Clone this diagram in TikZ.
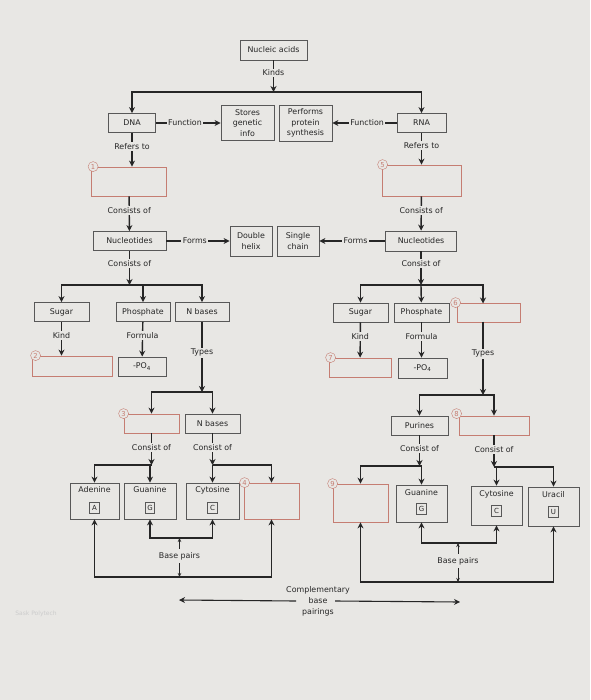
\documentclass[tikz,border=0pt]{standalone}
\usepackage{fontspec}
\setmainfont{DejaVu Sans}
\usetikzlibrary{positioning,arrows.meta}

\definecolor{paper}{HTML}{E8E7E4}
\definecolor{boxgray}{HTML}{585858}
\definecolor{blankred}{HTML}{C57D72}
\definecolor{ink}{HTML}{262626}

\begin{document}
\begin{tikzpicture}[x=1pt, y=-1pt, text=ink,
    font=\fontsize{7.9}{10.4}\selectfont,
    concept box/.style={draw=boxgray, line width=0.8pt, inner sep=0pt, align=center, minimum height=19pt},
    blank box/.style={concept box, draw=blankred},
    number tag/.style={circle, draw=blankred, fill=paper, text=blankred, inner sep=0pt, minimum size=10pt, font=\fontsize{6.8}{7}\selectfont},
    letter box/.style={draw=boxgray, line width=0.7pt, inner sep=0pt, minimum width=9.5pt, minimum height=10.5pt, font=\fontsize{7}{7}\selectfont},
    base name/.style={inner sep=0pt},
    edge label/.style={fill=paper, inner sep=1.4pt},
    main arrow/.style={-{Stealth[length=6pt,width=6pt]}, draw=ink, line width=1.4pt},
    small arrow/.style={-{Stealth[length=4pt,width=3.5pt]}, draw=ink, line width=0.7pt}]

  % Paper
  \fill[paper] (0,0) rectangle (590,700);
  \useasboundingbox (0,0) rectangle (590,700);
  \node[text=black!20, font=\fontsize{6}{6}\selectfont] (mark) at (36,614) {Sask Polytech};

  % Nodes (arranged top-to-bottom)
  \node[concept box, minimum width=67pt, minimum height=20pt] (nuc) at (273.5,50) {Nucleic acids};

  % Level 1
  \node[concept box, minimum width=47pt] (dna) at (132,123) {DNA};
  \node[concept box, minimum width=53pt, minimum height=35pt] (store) at (247.5,123) {Stores\\genetic\\info};
  \node[concept box, minimum width=53pt, minimum height=36pt] (perf) at (305.5,123) {Performs\\protein\\synthesis};
  \node[concept box, minimum width=49pt] (rna) at (421.5,123) {RNA};

  % Level 2
  \node[blank box, minimum width=75pt, minimum height=29pt] (b1) at (129,181.5) {};
  \node[blank box, minimum width=79pt, minimum height=31pt] (b5) at (421.5,180.5) {};
  \node[concept box, minimum width=73pt] (nt1) at (129.5,241) {Nucleotides};
  \node[concept box, minimum width=42pt, minimum height=30pt] (helix) at (251,241) {Double\\helix};
  \node[concept box, minimum width=42pt, minimum height=30pt] (chain) at (298,241) {Single\\chain};
  \node[concept box, minimum width=71pt, minimum height=20pt] (nt2) at (421,241) {Nucleotides};

  % Level 3 (DNA side)
  \node[concept box, minimum width=55pt] (sug1) at (61.5,312) {Sugar};
  \node[concept box, minimum width=54pt] (pho1) at (143,312) {Phosphate};
  \node[concept box, minimum width=54pt] (nb1) at (202,312) {N bases};
  \node[blank box, minimum width=80pt, minimum height=20pt] (b2) at (72,366) {};
  \node[concept box, minimum width=48pt] (po1) at (142,366.5) {-PO\textsubscript{4}};

  % Level 3 (RNA side)
  \node[concept box, minimum width=55pt] (sug2) at (360.5,312.5) {Sugar};
  \node[concept box, minimum width=55pt] (pho2) at (421.5,312.5) {Phosphate};
  \node[blank box, minimum width=63pt] (b6) at (488.5,312.5) {};
  \node[blank box, minimum width=62pt] (b7) at (360,367.5) {};
  \node[concept box, minimum width=49pt, minimum height=20pt] (po2) at (422.5,368) {-PO\textsubscript{4}};

  % Level 4
  \node[blank box, minimum width=55pt] (b3) at (151.5,423.5) {};
  \node[concept box, minimum width=55pt] (nb2) at (212.5,423.5) {N bases};
  \node[concept box, minimum width=57pt] (pur) at (419.5,425.5) {Purines};
  \node[blank box, minimum width=70pt] (b8) at (494,425.5) {};

  % Level 5 (bases)
  \node[concept box, minimum width=49pt, minimum height=36pt] (ade1) at (94.5,501) {};
  \node[concept box, minimum width=52pt, minimum height=36pt] (gua1) at (150,501) {};
  \node[concept box, minimum width=53pt, minimum height=36pt] (cyt1) at (212.5,501) {};
  \node[blank box, minimum width=55pt, minimum height=36pt] (b4) at (271.5,501) {};
  \node[blank box, minimum width=55pt, minimum height=38pt] (b9) at (360.5,503) {};
  \node[concept box, minimum width=51pt, minimum height=37pt] (gua2) at (421.5,503.5) {};
  \node[concept box, minimum width=51pt, minimum height=39pt] (cyt2) at (496.5,505.5) {};
  \node[concept box, minimum width=51pt, minimum height=39pt] (ura) at (553.5,506.5) {};

  \node[base name, below=4pt of ade1.north] (adeT) {Adenine};
  \node[base name, below=4pt of gua1.north] (gua1T) {Guanine};
  \node[base name, below=4pt of cyt1.north] (cyt1T) {Cytosine};
  \node[base name, below=5pt of gua2.north] (gua2T) {Guanine};
  \node[base name, below=5pt of cyt2.north] (cyt2T) {Cytosine};
  \node[base name, below=5pt of ura.north] (uraT) {Uracil};
  \node[letter box, above=6pt of ade1.south] (adeL) {A};
  \node[letter box, above=6pt of gua1.south] (gua1L) {G};
  \node[letter box, above=6pt of cyt1.south] (cyt1L) {C};
  \node[letter box, above=8pt of gua2.south] (gua2L) {G};
  \node[letter box, above=9pt of cyt2.south] (cyt2L) {C};
  \node[letter box, above=9pt of ura.south] (uraL) {U};

  % Numbers on the blanks
  \node[number tag] (n1) at ([xshift=2pt]b1.north west) {1};
  \node[number tag] (n2) at ([xshift=4pt]b2.north west) {2};
  \node[number tag] (n3) at (b3.north west) {3};
  \node[number tag] (n4) at ([xshift=1pt]b4.north west) {4};
  \node[number tag] (n5) at ([xshift=1pt]b5.north west) {5};
  \node[number tag] (n6) at ([xshift=-1pt]b6.north west) {6};
  \node[number tag] (n7) at ([xshift=2pt]b7.north west) {7};
  \node[number tag] (n8) at ([xshift=-2pt, yshift=2pt]b8.north west) {8};
  \node[number tag] (n9) at (b9.north west) {9};

  % Junctions
  \coordinate (kj) at (273.5,92);
  \coordinate (j1) at (129.5,285);
  \coordinate (j2) at (421,285);
  \coordinate (b6in) at (483,303.5);
  \coordinate (b6out) at (483,321.5);
  \coordinate (t1) at (202,392);
  \coordinate (t2) at (483,395);
  \coordinate (c1) at (151.5,465);
  \coordinate (c2) at (212.5,465);
  \coordinate (c3) at (419.5,466);
  \coordinate (c4) at (494,467);
  \coordinate (p1) at (179.5,538);
  \coordinate (q1) at (179.5,577);
  \coordinate (p2) at (458,543);
  \coordinate (q2) at (458,582);
  \coordinate (cl) at (179,600);
  \coordinate (cr) at (460,602);

  % Edges with labels
  \path[main arrow]
    (nuc) edge node[edge label, pos=.4] {Kinds} (kj)
    (dna) edge node[edge label, pos=.45] {Function} (store)
    (rna) edge node[edge label, pos=.46] {Function} (perf)
    (dna) edge node[edge label, pos=.4] {Refers to} (dna |- b1.north)
    (rna) edge node[edge label, pos=.4] {Refers to} (b5)
    (b1) edge node[edge label, pos=.4] {Consists of} (nt1)
    (b5) edge node[edge label, pos=.4] {Consists of} (nt2)
    (nt1) edge node[edge label, pos=.45] {Forms} (helix)
    (nt2) edge node[edge label, pos=.45] {Forms} (chain)
    (nt1) edge node[edge label, pos=.37] {Consists of} (j1)
    (nt2) edge node[edge label, pos=.37] {Consist of} (j2)
    (sug1) edge node[edge label, pos=.4] {Kind} (sug1 |- b2.north)
    (pho1) edge node[edge label, pos=.4] {Formula} (po1)
    (sug2) edge node[edge label, pos=.4] {Kind} (b7)
    (pho2) edge node[edge label, pos=.4] {Formula} (pho2 |- po2.north)
    (nb1) edge node[edge label, pos=.44] {Types} (t1)
    (b3) edge node[edge label, pos=.44] {Consist of} (c1)
    (nb2) edge node[edge label, pos=.44] {Consist of} (c2)
    (pur) edge node[edge label, pos=.44] {Consist of} (c3)
    (b8) edge node[edge label, pos=.44] {Consist of} (c4);
  \draw[main arrow] (b6out) -- node[edge label, pos=.44] {Types} (t2);

  % Branches
  \draw[main arrow] (kj) -| (dna);
  \draw[main arrow] (kj) -| (rna);
  \draw[main arrow] (j1) -| (sug1);
  \draw[main arrow] (j1) -| (pho1);
  \draw[main arrow] (j1) -| (nb1);
  \draw[main arrow] (j2) -| (sug2);
  \draw[main arrow] (j2) -- (pho2);
  \draw[main arrow] (j2) -| (b6in);
  \draw[main arrow] (t1) -| (b3);
  \draw[main arrow] (t1) -| (nb2);
  \draw[main arrow] (t2) -| (pur);
  \draw[main arrow] (t2) -| (b8);
  \draw[main arrow] (c1) -| (ade1);
  \draw[main arrow] (c1) -| (gua1);
  \draw[main arrow] (c2) -| (cyt1);
  \draw[main arrow] (c2) -| (b4);
  \draw[main arrow] (c3) -| (b9);
  \draw[main arrow] (c3) -| (gua2);
  \draw[main arrow] (c4) -| (cyt2);
  \draw[main arrow] (c4) -| (ura);

  % Base pairs
  \node (bp1) at (179.5,556) {Base pairs};
  \node (bp2) at (458,561) {Base pairs};
  \draw[small arrow] (bp1) -- (p1);
  \draw[small arrow] (bp1) -- (q1);
  \draw[small arrow] (bp2) -- (p2);
  \draw[small arrow] (bp2) -- (q2);
  \draw[main arrow] (p1) -| (gua1);
  \draw[main arrow] (p1) -| (cyt1);
  \draw[main arrow] (q1) -| (ade1);
  \draw[main arrow] (q1) -| (b4);
  \draw[main arrow] (p2) -| (gua2);
  \draw[main arrow] (p2) -| (cyt2);
  \draw[main arrow] (q2) -| (b9);
  \draw[main arrow] (q2) -| (ura);

  % Complementary base pairings
  \node[align=center, font=\fontsize{7.9}{11}\selectfont] (comp) at (318,601) {Complementary\\base\\pairings};
  \draw[main arrow, line width=1.1pt] ([xshift=-22pt]comp.center) -- (cl);
  \draw[main arrow, line width=1.1pt] ([xshift=17pt]comp.center) -- (cr);
\end{tikzpicture}
\end{document}
